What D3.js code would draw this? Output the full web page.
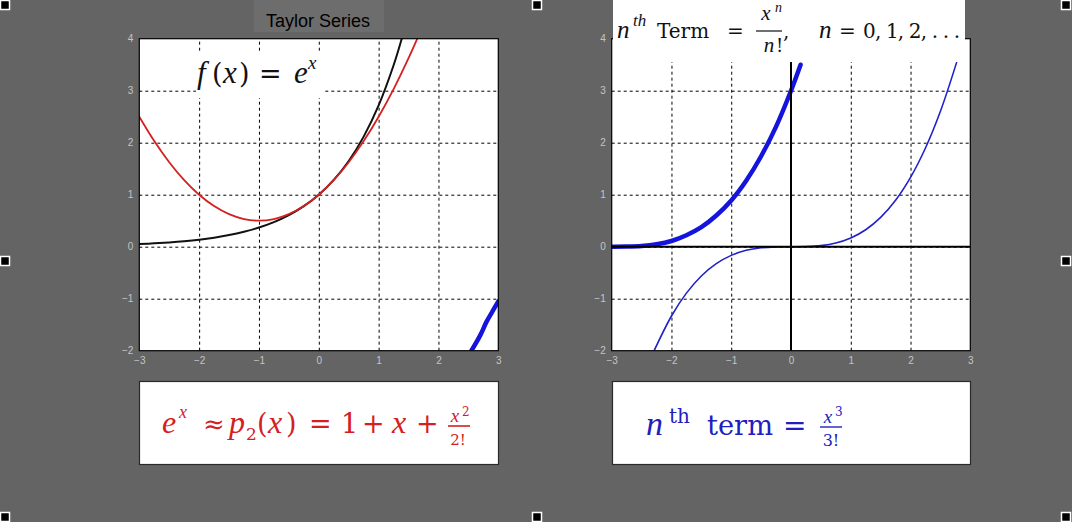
<!DOCTYPE html>
<html>
  <head>
    <meta charset="utf-8">
    <script src="https://d3js.org/d3.v7.min.js"></script>
    <style>
body { margin: 0; background: #646464; }
svg { display: block; }
.tick text { fill: #c4c4c4; font-family: Arial, sans-serif; font-size: 10px; }
    </style>
  </head>
  <body>
    <script>
// tick values shared by both panels
var xTicks = [-3, -2, -1, 0, 1, 2, 3];
var yTicks = [-2, -1, 0, 1, 2, 3, 4];

// left panel: f(x) = e^x (black) and p2(x) (red)
var expX = [-3, -2.75, -2.5, -2.25, -2, -1.75, -1.5, -1.25, -1, -0.75, -0.5, -0.25, 0, 0.25, 0.5, 0.75, 1, 1.25, 1.386];
var expY = [0.05, 0.064, 0.082, 0.105, 0.135, 0.174, 0.223, 0.287, 0.368, 0.472, 0.607, 0.779, 1, 1.284, 1.649, 2.117, 2.718, 3.49, 4.0];
var p2X = [-3, -2.75, -2.5, -2.25, -2, -1.75, -1.5, -1.25, -1, -0.75, -0.5, -0.25, 0, 0.25, 0.5, 0.75, 1, 1.25, 1.5, 1.646];
var p2Y = [2.5, 2.031, 1.625, 1.281, 1.0, 0.781, 0.625, 0.531, 0.5, 0.531, 0.625, 0.781, 1, 1.281, 1.625, 2.031, 2.5, 3.031, 3.625, 4.0];
var leftBlueX = [2.55, 2.7, 2.8, 2.9, 3.0];
var leftBlueY = [-2.0, -1.7, -1.45, -1.25, -1.05];

// right panel: thick blue curve and thin x^3/3! curve
var thickX = [-3, -2.75, -2.5, -2.25, -2, -1.75, -1.5, -1.25, -1, -0.75, -0.5, -0.25, 0, 0.16];
var thickY = [0, 0.002, 0.014, 0.047, 0.11, 0.22, 0.375, 0.6, 0.89, 1.27, 1.74, 2.31, 3.0, 3.5];
var cubeX = [-2.29, -2, -1.75, -1.5, -1.25, -1, -0.75, -0.5, -0.25, 0, 0.25, 0.5, 0.75, 1, 1.25, 1.5, 1.75, 2, 2.25, 2.5, 2.77];
var cubeY = [-2.0, -1.333, -0.893, -0.563, -0.326, -0.167, -0.07, -0.021, -0.003, 0, 0.003, 0.021, 0.07, 0.167, 0.326, 0.563, 0.893, 1.333, 1.898, 2.604, 3.54];

function pts(xs, ys) {
	return xs.map(function (d, i) { return [d, ys[i]]; });
}

var svg = d3.select("body").append("svg").attr("width", 1072).attr("height", 522);
svg.append("rect").attr("width", 1072).attr("height", 522).style("fill", "#646464");

var plotTop = 38.7, plotBottom = 350.7;

function panel(id, left, right) {
	var x = d3.scaleLinear().domain([-3, 3]).range([left, right]);
	var y = d3.scaleLinear().domain([-2, 4]).range([plotBottom, plotTop]);
	var g = svg.append("g");
	g.append("rect").attr("x", left).attr("y", plotTop).attr("width", right - left).attr("height", plotBottom - plotTop).style("fill", "white");
	g.append("clipPath").attr("id", id).append("rect")
		.attr("x", left).attr("y", plotTop).attr("width", right - left).attr("height", plotBottom - plotTop);

	// dashed grid
	var inner = xTicks.filter(function (d) { return d > -3 && d < 3; });
	var innerY = yTicks.filter(function (d) { return d > -2 && d < 4; });
	g.append("g").attr("transform", "translate(0," + plotBottom + ")")
		.call(d3.axisBottom(x).tickValues(inner).tickSize(-(plotBottom - plotTop)).tickFormat(""))
		.call(function (s) { s.select(".domain").remove(); })
		.selectAll("line").style("stroke", "#000").style("stroke-dasharray", "3,3");
	g.append("g").attr("transform", "translate(" + left + ",0)")
		.call(d3.axisLeft(y).tickValues(innerY).tickSize(-(right - left)).tickFormat(""))
		.call(function (s) { s.select(".domain").remove(); })
		.selectAll("line").style("stroke", "#000").style("stroke-dasharray", "3,3");

	// tick labels
	g.append("g").attr("transform", "translate(0," + (plotBottom + 3) + ")")
		.call(d3.axisBottom(x).tickValues(xTicks).tickSize(0).tickFormat(d3.format("d")))
		.call(function (s) { s.select(".domain").remove(); });
	g.append("g").attr("transform", "translate(" + (left - 3) + ",0)")
		.call(d3.axisLeft(y).tickValues(yTicks).tickSize(0).tickFormat(d3.format("d")))
		.call(function (s) { s.select(".domain").remove(); });

	var plot = g.append("g").attr("clip-path", "url(#" + id + ")");
	return { x: x, y: y, g: g, plot: plot, left: left, right: right };
}

function curve(p, data, color, width) {
	var line = d3.line()
		.x(function (d) { return p.x(d[0]); })
		.y(function (d) { return p.y(d[1]); })
		.curve(d3.curveCatmullRom);
	p.plot.append("path").datum(data).attr("d", line)
		.style("fill", "none").style("stroke", color).style("stroke-width", width)
		.style("stroke-linejoin", "round").style("stroke-linecap", "round");
}

function border(p) {
	p.g.append("rect").attr("x", p.left).attr("y", plotTop).attr("width", p.right - p.left).attr("height", plotBottom - plotTop)
		.style("fill", "none").style("stroke", "#000").style("stroke-width", 1.2);
}

// italic -> math variables, upright -> numbers, operators, words
function txt(parent, x, y, s, size, fill, italic, anchor) {
	return parent.append("text").attr("x", x).attr("y", y)
		.attr("text-anchor", anchor || "start")
		.style("font-family", italic ? "'Liberation Serif', serif" : "'DejaVu Serif', serif")
		.style("font-size", size + "px").style("fill", fill)
		.style("font-style", italic ? "italic" : "normal").text(s);
}

// ---- left panel
var L = panel("clipL", 139.3, 498.3);
curve(L, pts(expX, expY), "#111", 2);
curve(L, pts(p2X, p2Y), "#d42020", 1.8);
curve(L, pts(leftBlueX, leftBlueY), "#1414dc", 4.5);
border(L);

// f(x) = e^x label
L.g.append("rect").attr("x", 196).attr("y", 52).attr("width", 127).attr("height", 46).style("fill", "white");
txt(L.g, 197, 83, "f", 31, "#111", true);
txt(L.g, 212, 83, "(", 27, "#111", false);
txt(L.g, 223, 83, "x", 31, "#111", true);
txt(L.g, 239, 83, ")", 27, "#111", false);
txt(L.g, 259, 83, "=", 27, "#111", false);
txt(L.g, 294, 83, "e", 31, "#111", true);
txt(L.g, 308, 69, "x", 19, "#111", true);

// title
svg.append("rect").attr("x", 254).attr("y", 0).attr("width", 130).attr("height", 32).style("fill", "#6d6d6d");
svg.append("text").attr("x", 318).attr("y", 27).attr("text-anchor", "middle")
	.style("font-family", "Arial, 'Liberation Sans', sans-serif").style("font-size", "18px").style("fill", "#000")
	.text("Taylor Series");

// ---- right panel
var R = panel("clipR", 611.7, 970.3);
R.g.append("line").attr("x1", R.left).attr("x2", R.right).attr("y1", R.y(0)).attr("y2", R.y(0))
	.style("stroke", "#000").style("stroke-width", 2);
R.g.append("line").attr("x1", R.x(0)).attr("x2", R.x(0)).attr("y1", plotTop).attr("y2", plotBottom)
	.style("stroke", "#000").style("stroke-width", 2);
curve(R, pts(cubeX, cubeY), "#2222c8", 1.6);
curve(R, pts(thickX, thickY), "#1414dc", 4.5);
border(R);

// n-th term header box
var H = svg.append("g");
H.append("rect").attr("x", 613).attr("y", 0).attr("width", 352).attr("height", 62).style("fill", "white");
txt(H, 617, 38, "n", 25, "#111", true);
txt(H, 633, 26, "th", 17, "#111", true);
txt(H, 657, 38, "Term", 20, "#111", false);
txt(H, 727, 38, "=", 20, "#111", false);
txt(H, 766, 20, "x", 21, "#111", true, "middle");
txt(H, 775, 12, "n", 14, "#111", true);
H.append("line").attr("x1", 756).attr("x2", 782).attr("y1", 31).attr("y2", 31).style("stroke", "#111").style("stroke-width", 1.2);
txt(H, 769, 52, "n", 21, "#111", true, "middle");
txt(H, 776, 52, "!", 18, "#111", false);
txt(H, 783, 38, ",", 20, "#111", false);
txt(H, 819, 38, "n", 25, "#111", true);
txt(H, 839, 38, "=", 20, "#111", false);
txt(H, 863, 38, "0, 1, 2, . . .", 20, "#111", false)
	.attr("textLength", 97).attr("lengthAdjust", "spacing");

// ---- bottom formula boxes
var bl = svg.append("g");
bl.append("rect").attr("x", 139.5).attr("y", 381.5).attr("width", 359).attr("height", 83)
	.style("fill", "white").style("stroke", "#2a2a2a").style("stroke-width", 1.2);
var red = "#d42020";
txt(bl, 162, 433, "e", 32, red, true);
txt(bl, 179, 418, "x", 18, red, true);
txt(bl, 203, 433, "\u2248", 26, red, false);
txt(bl, 229, 433, "p", 32, red, true);
txt(bl, 246, 440, "2", 17, red, false);
txt(bl, 257, 433, "(", 27, red, false);
txt(bl, 268, 433, "x", 32, red, true);
txt(bl, 286, 433, ")", 27, red, false);
txt(bl, 309, 433, "=", 27, red, false);
txt(bl, 341, 433, "1", 27, red, false);
txt(bl, 362, 433, "+", 27, red, false);
txt(bl, 392, 433, "x", 32, red, true);
txt(bl, 416, 433, "+", 27, red, false);
txt(bl, 455, 422, "x", 19, red, true, "middle");
txt(bl, 462, 416, "2", 12, red, false);
bl.append("line").attr("x1", 448).attr("x2", 470).attr("y1", 426).attr("y2", 426).style("stroke", red).style("stroke-width", 1.6);
txt(bl, 458, 445, "2!", 15, red, false, "middle");

var br = svg.append("g");
br.append("rect").attr("x", 612.5).attr("y", 381.5).attr("width", 358).attr("height", 83)
	.style("fill", "white").style("stroke", "#2a2a2a").style("stroke-width", 1.2);
var blue = "#2020c0";
txt(br, 646, 435, "n", 34, blue, true);
txt(br, 669, 423, "th", 20, blue, false);
txt(br, 707, 435, "term", 28, blue, false).attr("textLength", 66).attr("lengthAdjust", "spacingAndGlyphs");
txt(br, 783, 435, "=", 28, blue, false);
txt(br, 828, 423, "x", 19, blue, true, "middle");
txt(br, 835, 416, "3", 12, blue, false);
br.append("line").attr("x1", 820).attr("x2", 842).attr("y1", 427).attr("y2", 427).style("stroke", blue).style("stroke-width", 1.4);
txt(br, 831, 446, "3!", 16, blue, false, "middle");

// selection handles
var handles = [[5, 5], [537, 5], [1066, 5], [5, 261], [1066, 261], [5, 517], [537, 517], [1066, 517]];
svg.selectAll("rect.handle").data(handles).enter().append("rect").attr("class", "handle")
	.attr("x", function (d) { return d[0] - 4.5; })
	.attr("y", function (d) { return d[1] - 4.5; })
	.attr("width", 9).attr("height", 9)
	.style("fill", "#000").style("stroke", "#fff").style("stroke-width", 1.5);
    </script>
  </body>
</html>
